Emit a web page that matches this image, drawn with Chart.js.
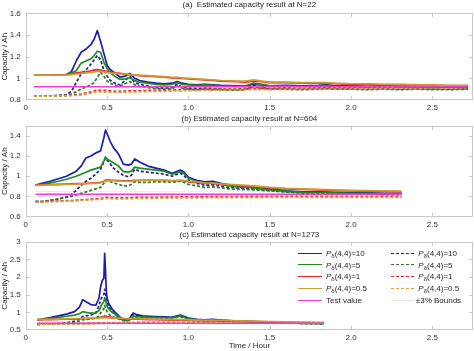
<!DOCTYPE html>
<html><head><meta charset="utf-8">
<script src="https://cdn.jsdelivr.net/npm/chart.js@4/dist/chart.umd.min.js"></script>
<style>
html,body{margin:0;padding:0;background:#fff;}
body{width:474px;height:351px;position:relative;overflow:hidden;font-family:"Liberation Sans",Arial,sans-serif;color:#262626;}
canvas{position:absolute;left:0;}
.ttl{position:absolute;left:25.8px;width:447.2px;text-align:center;font-size:8px;line-height:9px;white-space:pre;}
.lg{position:absolute;font-size:8px;line-height:9px;white-space:nowrap;}
.lg sub{font-size:6px;line-height:0;vertical-align:-2px;}
.sw{position:absolute;height:0;width:23.5px;}
</style></head><body>
<canvas id="ca" width="474" height="113" style="top:0px"></canvas>
<canvas id="cb" width="474" height="117" style="top:113px"></canvas>
<canvas id="cc" width="474" height="121" style="top:230px"></canvas>
<div class="ttl" style="top:-0.5px">(a)  Estimated capacity result at N=22</div>
<div class="ttl" style="top:114px">(b) Estimated capacity result at N=604</div>
<div class="ttl" style="top:229.5px">(c) Estimated capacity result at N=1273</div>
<div id="legend"></div>
<script>
// ---------- tick labels ----------
const xTicks = [0, 0.5, 1, 1.5, 2, 2.5];
const xTickLabels = ['0', '0.5', '1.0', '1.5', '2.0', '2.5'];
const yTicksA = [0.8, 1, 1.2, 1.4, 1.6];
const yTickLabelsA = ['0.8', '1', '1.2', '1.4', '1.6'];
const yTicksB = [0.6, 0.8, 1, 1.2, 1.4];
const yTickLabelsB = ['0.6', '0.8', '1', '1.2', '1.4'];
const yTicksC = [0.5, 1, 1.5, 2, 2.5, 3];
const yTickLabelsC = ['0.5', '1', '1.5', '2', '2.5', '3'];

// ---------- series labels ----------
const seriesNames = ['Pδ(4,4)=10', 'Pδ(4,4)=5', 'Pδ(4,4)=1', 'Pδ(4,4)=0.5', 'Test value', '±3% Bounds'];

// ---------- panel (a) N=22 ----------
const tA = [0.05,0.1,0.15,0.2,0.25,0.28,0.31,0.34,0.37,0.4,0.42,0.44,0.46,0.48,0.5,0.52,0.55,0.58,0.61,0.64,0.67,0.7,0.75,0.8,0.85,0.9,0.93,0.96,1.0,1.05,1.1,1.15,1.2,1.3,1.35,1.4,1.45,1.5,1.6,1.7,1.8,1.85,1.9,2.0,2.1,2.2,2.3,2.4,2.5,2.6,2.72];
const aP10 = [null,null,1.03,1.03,1.035,1.06,1.16,1.24,1.27,1.31,1.36,1.44,1.34,1.23,1.12,1.08,1.045,1.01,1.02,1.045,1.0,0.98,0.965,0.955,0.95,0.955,0.97,0.955,0.945,0.94,0.945,0.94,0.935,0.93,0.925,0.945,0.94,0.93,0.935,0.93,0.935,0.94,0.93,0.93,0.925,0.93,0.925,0.925,0.92,0.925,0.92];
const aP5 = [null,null,1.03,1.03,1.035,1.05,1.07,1.14,1.16,1.18,1.21,1.25,1.24,1.15,1.09,1.05,1.015,0.99,0.995,1.005,0.98,0.965,0.955,0.945,0.94,0.945,0.96,0.945,0.94,0.935,0.94,0.935,0.93,0.925,0.93,0.955,0.945,0.93,0.93,0.925,0.93,0.935,0.925,0.925,0.92,0.925,0.92,0.92,0.915,0.92,0.915];
const aP1 = [1.03,1.03,1.03,1.03,1.035,1.04,1.05,1.055,1.06,1.07,1.075,1.08,1.075,1.07,1.065,1.06,1.05,1.045,1.04,1.035,1.03,1.025,1.02,1.015,1.01,1.005,1.005,1.0,0.995,0.99,0.985,0.98,0.975,0.97,0.965,0.975,0.97,0.96,0.96,0.955,0.955,0.955,0.95,0.945,0.945,0.94,0.94,0.935,0.935,0.93,0.93];
const aP05 = [1.03,1.03,1.03,1.03,1.03,1.035,1.04,1.045,1.05,1.055,1.06,1.065,1.065,1.06,1.055,1.05,1.045,1.04,1.04,1.035,1.03,1.03,1.025,1.02,1.015,1.01,1.01,1.005,1.0,0.995,0.99,0.985,0.98,0.975,0.975,0.985,0.975,0.965,0.965,0.96,0.96,0.96,0.955,0.95,0.95,0.945,0.945,0.94,0.94,0.935,0.935];
const aP10d = [0.837,0.837,0.838,0.84,0.85,0.88,0.96,1.04,1.076,1.13,1.17,1.21,1.17,1.076,1.02,0.98,0.953,0.938,0.98,1.02,0.96,0.945,0.93,0.915,0.91,0.915,0.945,0.92,0.91,0.905,0.91,0.905,0.9,0.895,0.9,0.93,0.92,0.905,0.91,0.9,0.91,0.915,0.905,0.905,0.9,0.905,0.9,0.905,0.9,0.9,0.905];
const aP5d = [0.837,0.837,0.838,0.84,0.845,0.858,0.875,0.9,0.92,0.94,0.96,1.01,1.055,1.02,0.975,0.955,0.935,0.93,0.95,0.97,0.94,0.925,0.915,0.905,0.9,0.905,0.93,0.91,0.9,0.895,0.9,0.895,0.895,0.89,0.895,0.92,0.91,0.9,0.9,0.895,0.9,0.905,0.9,0.9,0.895,0.9,0.895,0.9,0.895,0.895,0.9];
const aP1d = [0.837,0.837,0.838,0.84,0.842,0.845,0.85,0.855,0.865,0.875,0.885,0.89,0.89,0.888,0.885,0.885,0.88,0.88,0.882,0.885,0.885,0.885,0.888,0.89,0.89,0.892,0.895,0.895,0.895,0.895,0.9,0.9,0.9,0.902,0.905,0.905,0.905,0.905,0.908,0.908,0.91,0.91,0.91,0.912,0.912,0.912,0.915,0.915,0.915,0.915,0.915];
const aP05d = [0.835,0.835,0.836,0.837,0.838,0.84,0.843,0.848,0.855,0.862,0.87,0.875,0.876,0.875,0.873,0.872,0.87,0.87,0.872,0.874,0.875,0.876,0.878,0.88,0.88,0.882,0.885,0.885,0.886,0.887,0.888,0.89,0.89,0.892,0.895,0.895,0.895,0.896,0.898,0.898,0.9,0.9,0.9,0.902,0.902,0.903,0.905,0.905,0.905,0.906,0.906];
const aTest = 0.922;
const aBounds = [0.95, 0.894];

// ---------- panel (b) N=604 ----------
const tB = [0.06,0.1,0.15,0.2,0.25,0.28,0.31,0.34,0.37,0.4,0.43,0.46,0.48,0.49,0.5,0.52,0.54,0.57,0.6,0.63,0.65,0.67,0.7,0.75,0.8,0.85,0.9,0.95,0.97,1.0,1.05,1.1,1.15,1.2,1.25,1.3,1.4,1.5,1.6,1.7,1.8,1.9,2.0,2.1,2.2,2.31];
const bP10 = [0.913,0.93,0.95,0.975,1.0,1.025,1.05,1.1,1.18,1.2,1.23,1.25,1.38,1.455,1.42,1.34,1.28,1.22,1.12,1.11,1.12,1.17,1.14,1.1,1.08,1.06,1.03,1.06,1.045,0.99,0.96,0.945,0.95,0.93,0.915,0.905,0.895,0.875,0.855,0.845,0.845,0.84,0.835,0.835,0.83,0.83];
const bP5 = [0.913,0.92,0.935,0.95,0.97,0.985,1.0,1.02,1.04,1.06,1.075,1.09,1.15,1.19,1.17,1.15,1.13,1.1,1.045,1.04,1.05,1.09,1.08,1.07,1.06,1.05,1.02,1.045,1.03,0.98,0.95,0.93,0.935,0.92,0.905,0.895,0.885,0.865,0.85,0.84,0.84,0.835,0.83,0.83,0.825,0.825];
const bP1 = [0.913,0.915,0.918,0.92,0.922,0.924,0.926,0.928,0.93,0.932,0.935,0.94,0.95,0.96,0.965,0.962,0.96,0.957,0.955,0.955,0.957,0.96,0.96,0.96,0.96,0.958,0.955,0.957,0.955,0.945,0.94,0.93,0.928,0.92,0.915,0.91,0.9,0.885,0.875,0.87,0.865,0.86,0.855,0.853,0.85,0.848];
const bP05 = [0.91,0.912,0.914,0.916,0.918,0.92,0.922,0.924,0.926,0.928,0.93,0.935,0.945,0.955,0.958,0.956,0.955,0.952,0.95,0.95,0.952,0.955,0.957,0.958,0.96,0.958,0.957,0.96,0.958,0.95,0.945,0.935,0.932,0.925,0.92,0.915,0.905,0.89,0.88,0.875,0.87,0.865,0.86,0.858,0.855,0.853];
const bP10d = [0.748,0.75,0.76,0.775,0.795,0.82,0.86,0.91,0.95,0.98,1.02,1.07,1.14,1.18,1.16,1.12,1.08,1.04,1.01,0.995,1.01,1.07,1.05,1.04,1.03,1.02,1.0,1.03,1.01,0.96,0.93,0.91,0.915,0.9,0.89,0.885,0.875,0.86,0.845,0.835,0.835,0.83,0.825,0.825,0.82,0.82];
const bP5d = [0.748,0.75,0.76,0.775,0.79,0.8,0.815,0.83,0.845,0.86,0.875,0.89,0.93,0.96,0.955,0.945,0.935,0.92,0.905,0.905,0.92,0.945,0.94,0.94,0.945,0.945,0.94,0.95,0.94,0.92,0.905,0.89,0.895,0.885,0.875,0.87,0.865,0.855,0.845,0.835,0.835,0.83,0.825,0.825,0.82,0.82];
const bP1d = [0.75,0.75,0.752,0.755,0.758,0.76,0.763,0.767,0.77,0.773,0.777,0.78,0.785,0.79,0.79,0.788,0.787,0.785,0.785,0.786,0.788,0.79,0.79,0.79,0.792,0.793,0.794,0.795,0.795,0.795,0.796,0.797,0.798,0.798,0.799,0.8,0.8,0.8,0.8,0.801,0.801,0.801,0.801,0.8,0.8,0.8];
const bP05d = [0.745,0.745,0.747,0.75,0.753,0.755,0.757,0.76,0.763,0.766,0.77,0.772,0.776,0.78,0.78,0.778,0.777,0.776,0.776,0.777,0.778,0.78,0.78,0.781,0.782,0.783,0.784,0.785,0.785,0.785,0.786,0.787,0.787,0.788,0.788,0.789,0.789,0.79,0.79,0.79,0.79,0.79,0.79,0.79,0.79,0.79];
const bTest = 0.822;
const bBounds = [0.847, 0.797];

// ---------- panel (c) N=1273 ----------
const tC = [0.07,0.1,0.15,0.2,0.25,0.3,0.33,0.35,0.37,0.4,0.43,0.45,0.46,0.47,0.48,0.485,0.49,0.495,0.5,0.51,0.53,0.55,0.58,0.6,0.62,0.64,0.66,0.68,0.72,0.76,0.8,0.85,0.9,0.95,1.0,1.05,1.1,1.15,1.2,1.3,1.4,1.5,1.6,1.7,1.83];
const cP10 = [0.79,0.81,0.85,0.9,0.95,1.02,1.15,1.36,1.3,1.22,1.2,1.4,1.72,1.9,1.96,2.67,2.2,1.6,1.4,1.25,1.1,1.0,0.86,0.8,0.78,0.84,0.98,0.94,0.9,0.89,0.88,0.87,0.86,0.92,0.84,0.8,0.785,0.8,0.78,0.755,0.74,0.72,0.71,0.695,0.69];
const cP5 = [0.79,0.8,0.83,0.86,0.89,0.92,0.96,1.02,1.0,0.98,0.98,1.05,1.15,1.25,1.3,1.42,1.35,1.25,1.18,1.1,1.0,0.95,0.84,0.79,0.77,0.8,0.9,0.88,0.87,0.86,0.86,0.85,0.845,0.895,0.82,0.79,0.775,0.79,0.77,0.75,0.735,0.715,0.705,0.69,0.685];
const cP1 = [0.79,0.792,0.795,0.8,0.805,0.81,0.815,0.82,0.822,0.83,0.84,0.85,0.86,0.87,0.88,0.9,0.89,0.885,0.88,0.87,0.855,0.845,0.83,0.82,0.815,0.81,0.815,0.81,0.8,0.795,0.79,0.785,0.78,0.78,0.77,0.765,0.76,0.76,0.755,0.745,0.74,0.73,0.72,0.71,0.7];
const cP05 = [0.8,0.802,0.805,0.81,0.815,0.82,0.825,0.83,0.832,0.835,0.838,0.84,0.842,0.845,0.848,0.85,0.85,0.848,0.846,0.843,0.838,0.835,0.83,0.825,0.822,0.82,0.823,0.82,0.815,0.81,0.805,0.8,0.795,0.795,0.785,0.78,0.775,0.775,0.77,0.76,0.75,0.74,0.73,0.72,0.71];
const cP10d = [0.66,0.665,0.67,0.68,0.7,0.75,0.82,0.88,0.9,0.92,0.98,1.2,1.35,1.45,1.5,1.65,1.55,1.4,1.3,1.15,1.02,0.94,0.82,0.78,0.765,0.8,0.95,0.92,0.88,0.87,0.87,0.86,0.855,0.91,0.83,0.795,0.78,0.79,0.775,0.75,0.735,0.715,0.705,0.69,0.685];
const cP5d = [0.66,0.665,0.67,0.675,0.69,0.72,0.76,0.79,0.8,0.81,0.83,0.9,0.98,1.05,1.1,1.2,1.15,1.08,1.02,0.95,0.88,0.85,0.79,0.77,0.76,0.78,0.88,0.86,0.85,0.845,0.845,0.84,0.835,0.87,0.81,0.785,0.77,0.78,0.765,0.745,0.73,0.71,0.7,0.688,0.682];
const cP1d = [0.66,0.662,0.665,0.668,0.672,0.676,0.68,0.683,0.685,0.688,0.692,0.695,0.697,0.698,0.7,0.705,0.705,0.703,0.702,0.7,0.7,0.702,0.705,0.707,0.708,0.71,0.712,0.713,0.715,0.716,0.717,0.718,0.72,0.72,0.72,0.719,0.718,0.718,0.717,0.716,0.715,0.714,0.712,0.71,0.71];
const cP05d = [0.655,0.656,0.658,0.66,0.663,0.666,0.669,0.672,0.674,0.676,0.679,0.682,0.684,0.686,0.688,0.69,0.69,0.69,0.689,0.689,0.69,0.691,0.692,0.693,0.694,0.695,0.696,0.697,0.698,0.699,0.7,0.7,0.701,0.701,0.702,0.702,0.702,0.702,0.701,0.701,0.7,0.7,0.7,0.7,0.7];
const cTest = 0.69;
const cBounds = [0.711, 0.669];

// ---------- styling ----------
const FF = '"Liberation Sans", Arial, sans-serif';
const COL = {
  b: '#1c1cb0', g: '#1f8c1f', r: '#e8262a', o: '#cf9a2e',
  bd: '#20208f', gd: '#2a7a2a', rd: '#e0302a', od: '#d7a13a',
  test: '#f23bd2', bnd: '#f6e2ea'
};
const DASH = [3, 2];

function pts(t, v) { return t.map((x, i) => ({ x: x, y: v[i] })); }
function flat(t, val) { return [{ x: t[0], y: val }, { x: t[t.length - 1], y: val }]; }
function ds(label, data, color, dash, w) {
  return { label, data, borderColor: color, backgroundColor: color, borderDash: dash || [],
           borderWidth: w || 1.7, fill: false, pointRadius: 0, spanGaps: false };
}

const boxTicks = {
  id: 'boxTicks',
  beforeDatasetsDraw(chart) {
    const { ctx, chartArea: a, scales: { x, y } } = chart;
    ctx.save();
    ctx.strokeStyle = '#c9c9c9';
    ctx.lineWidth = 1;
    const L = Math.round(a.left) + 0.5, R = Math.round(a.right) - 0.5;
    const T = Math.round(a.top) + 0.5, B = Math.round(a.bottom) - 0.5;
    ctx.strokeRect(L, T, R - L, B - T);
    ctx.beginPath();
    x.ticks.forEach(tk => {
      const px = Math.round(x.getPixelForValue(tk.value)) + 0.5;
      if (px <= L + 1 || px >= R - 1) return;
      ctx.moveTo(px, B); ctx.lineTo(px, B - 3.5);
      ctx.moveTo(px, T); ctx.lineTo(px, T + 3.5);
    });
    y.ticks.forEach(tk => {
      const py = Math.round(y.getPixelForValue(tk.value)) + 0.5;
      if (py <= T + 1 || py >= B - 1) return;
      ctx.moveTo(L, py); ctx.lineTo(L + 3.5, py);
      ctx.moveTo(R, py); ctx.lineTo(R - 3.5, py);
    });
    ctx.stroke();
    ctx.restore();
  }
};

function makeChart(id, t, s, test, bounds, yMin, yMax, yT, yL, padTop, xH, xTitle) {
  const datasets = [
    ds(seriesNames[4], flat(t, test), COL.test, null, 1.5),
    ds(seriesNames[3], pts(t, s.P05), COL.o),
    ds(seriesNames[2], pts(t, s.P1), COL.r),
    ds(seriesNames[1], pts(t, s.P5), COL.g),
    ds(seriesNames[0], pts(t, s.P10), COL.b),
    ds(seriesNames[3], pts(t, s.P05d), COL.od, DASH),
    ds(seriesNames[2], pts(t, s.P1d), COL.rd, DASH),
    ds(seriesNames[1], pts(t, s.P5d), COL.gd, DASH),
    ds(seriesNames[0], pts(t, s.P10d), COL.bd, DASH),
    ds(seriesNames[5], flat(t, bounds[0]), COL.bnd, null, 1),
    ds(seriesNames[5], flat(t, bounds[1]), COL.bnd, null, 1)
  ];
  return new Chart(document.getElementById(id), {
    type: 'line',
    data: { datasets },
    plugins: [boxTicks],
    options: {
      responsive: false, animation: false, devicePixelRatio: 1,
      layout: { padding: { top: padTop, right: 1, left: 0, bottom: 0 } },
      plugins: { legend: { display: false }, tooltip: { enabled: false }, title: { display: false } },
      elements: { point: { radius: 0 }, line: { tension: 0, borderJoinStyle: 'round' } },
      scales: {
        x: {
          type: 'linear', min: 0, max: 2.75,
          afterBuildTicks: sc => { sc.ticks = xTicks.map(v => ({ value: v })); },
          afterFit: sc => { sc.height = xH; },
          grid: { display: false, drawTicks: false, tickLength: 0 }, border: { display: false },
          ticks: { padding: 3, color: '#333', font: { size: 8, family: FF }, maxRotation: 0, autoSkip: false,
                   callback: (v, i) => xTickLabels[i] },
          title: { display: !!xTitle, text: xTitle || '', color: '#262626', font: { size: 8, family: FF }, padding: 0 }
        },
        y: {
          type: 'linear', min: yMin, max: yMax,
          afterBuildTicks: sc => { sc.ticks = yT.map(v => ({ value: v })); },
          afterFit: sc => { sc.width = 25.8; },
          grid: { display: false, drawTicks: false, tickLength: 0 }, border: { display: false },
          ticks: { padding: 5, color: '#333', font: { size: 8, family: FF }, callback: (v, i) => yL[i] },
          title: { display: true, text: 'Capacity / Ah', color: '#262626', font: { size: 8, family: FF }, padding: 0 }
        }
      }
    }
  });
}

makeChart('ca', tA, { P10: aP10, P5: aP5, P1: aP1, P05: aP05, P10d: aP10d, P5d: aP5d, P1d: aP1d, P05d: aP05d },
          aTest, aBounds, 0.8, 1.6, yTicksA, yTickLabelsA, 13.3, 13, '');
makeChart('cb', tB, { P10: bP10, P5: bP5, P1: bP1, P05: bP05, P10d: bP10d, P5d: bP5d, P1d: bP1d, P05d: bP05d },
          bTest, bBounds, 0.6, 1.5, yTicksB, yTickLabelsB, 12.6, 13.3, '');
makeChart('cc', tC, { P10: cP10, P5: cP5, P1: cP1, P05: cP05, P10d: cP10d, P5d: cP5d, P1d: cP1d, P05d: cP05d },
          cTest, cBounds, 0.5, 3, yTicksC, yTickLabelsC, 11.7, 21, 'Time / Hour');

// ---------- legend (HTML, two columns) ----------
const legendRows = [
  [{ c: COL.b, d: false, n: 0 }, { c: COL.bd, d: true, n: 0 }],
  [{ c: COL.g, d: false, n: 1 }, { c: COL.gd, d: true, n: 1 }],
  [{ c: COL.r, d: false, n: 2 }, { c: COL.rd, d: true, n: 2 }],
  [{ c: COL.o, d: false, n: 3 }, { c: COL.od, d: true, n: 3 }],
  [{ c: COL.test, d: false, n: 4 }, { c: COL.bnd, d: false, n: 5 }]
];
function legendHTML(name) {
  if (name.startsWith('Pδ')) return '<i>P</i><sub>δ</sub>' + name.slice(2);
  return name;
}
const lg = document.getElementById('legend');
let html = '';
const colX = [[298.3, 326], [390.5, 418.3]];
legendRows.forEach((row, r) => {
  const yc = 253.5 + r * 11.7;
  row.forEach((e, c) => {
    const style = e.d ? `border-top:1.5px dashed ${e.c};` : `border-top:1.5px solid ${e.c};`;
    html += `<div class="sw" style="left:${colX[c][0]}px;top:${yc - 0.75}px;${style}"></div>`;
    const tx = (e.n === 5) ? colX[c][1] - 2.5 : colX[c][1];
    html += `<div class="lg" style="left:${tx}px;top:${yc - 4.5}px">${legendHTML(seriesNames[e.n])}</div>`;
  });
});
lg.innerHTML = html;
</script>
</body></html>
